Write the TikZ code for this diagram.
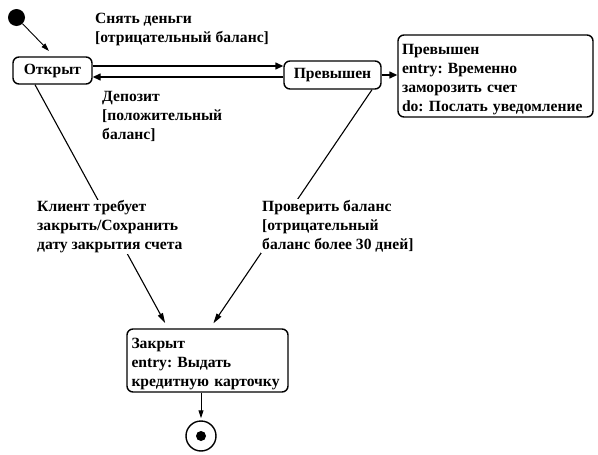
\documentclass[tikz,border=0pt]{standalone}
\usepackage{fontspec}
\setmainfont{Liberation Serif}
\usetikzlibrary{arrows.meta,calc}
\frenchspacing
\newcommand{\lowerstrut}{\rule{0pt}{18pt}}
\begin{document}
\begin{tikzpicture}[x=1pt,y=-1pt,
  every node/.style={font=\bfseries\fontsize{15.6}{19}\selectfont},
  state/.style={draw,line width=1.4pt,rounded corners=6pt,inner sep=0pt},
  lbl/.style={align=left,inner sep=1pt,anchor=west},
  thickarr/.style={line width=1.4pt,-{Triangle[length=8pt,width=7pt]}},
  diagarr/.style={line width=1.1pt,-{Triangle[length=10pt,width=5.5pt]}},
  thinarr/.style={line width=0.9pt,-{Triangle[length=8pt,width=5pt]}}]
\useasboundingbox (0,0) rectangle (598,455);
\fill[white] (0,0) rectangle (598,455);
% states
\node[circle,fill=black,minimum size=17pt,inner sep=0pt] (init) at (16.5,17.5) {};
\node[state,minimum width=79pt,minimum height=27pt] (open) at (52.5,70.5) {Открыт};
\node[state,minimum width=97pt,minimum height=28pt] (over) at (332.5,75) {Превышен};
\node[state,minimum height=82pt,text width=187pt,inner xsep=4pt,align=left] (overd) at (495.5,76) {\lowerstrut Превышен\\entry: Временно\\заморозить счет\\do: Послать уведомление};
\node[state,minimum height=63pt,text width=152pt,inner xsep=4.5pt,align=left] (closed) at (207.5,360.5) {\lowerstrut Закрыт\\entry: Выдать\\кредитную карточку};
\node[circle,draw,line width=1.4pt,minimum size=30pt,inner sep=0pt] (final) at (201,436) {};
\node[circle,fill=black,minimum size=10pt,inner sep=0pt] (finaldot) at (final.center) {};
% connectors
\coordinate (a1) at (49,51);
\draw[thinarr] (init) -- (a1);
\draw[thickarr] ([yshift=4.5pt]open.east) coordinate (s1) -- (s1 -| over.west);
\draw[thickarr] ([yshift=-2pt]over.west) coordinate (s2) -- (s2 -| open.east);
\draw[thickarr] (over.east) -- (over.east -| overd.west);
\draw[diagarr,shorten >=6pt] ([xshift=-17.5pt]open.south) -- ([xshift=-39.5pt]closed.north);
\draw[diagarr,shorten >=6pt] ([xshift=39.5pt]over.south) -- ([xshift=2.5pt]closed.north);
\draw[thinarr,shorten >=2pt] (closed.south -| final) -- (final);
% labels
\node[lbl] (l1) at (94,29.5) {Снять деньги\\{[}отрицательный баланс{]}};
\node[lbl] (l2) at (101,116.5) {Депозит\\{[}положительный\\баланс{]}};
\node[lbl,fill=white] (l3) at (36,227) {Клиент требует\\закрыть/Сохранить\\дату закрытия счета};
\node[lbl,fill=white] (l4) at (261,226) {Проверить баланс\\{[}отрицательный\\баланс более 30 дней{]}};
\end{tikzpicture}
\end{document}
